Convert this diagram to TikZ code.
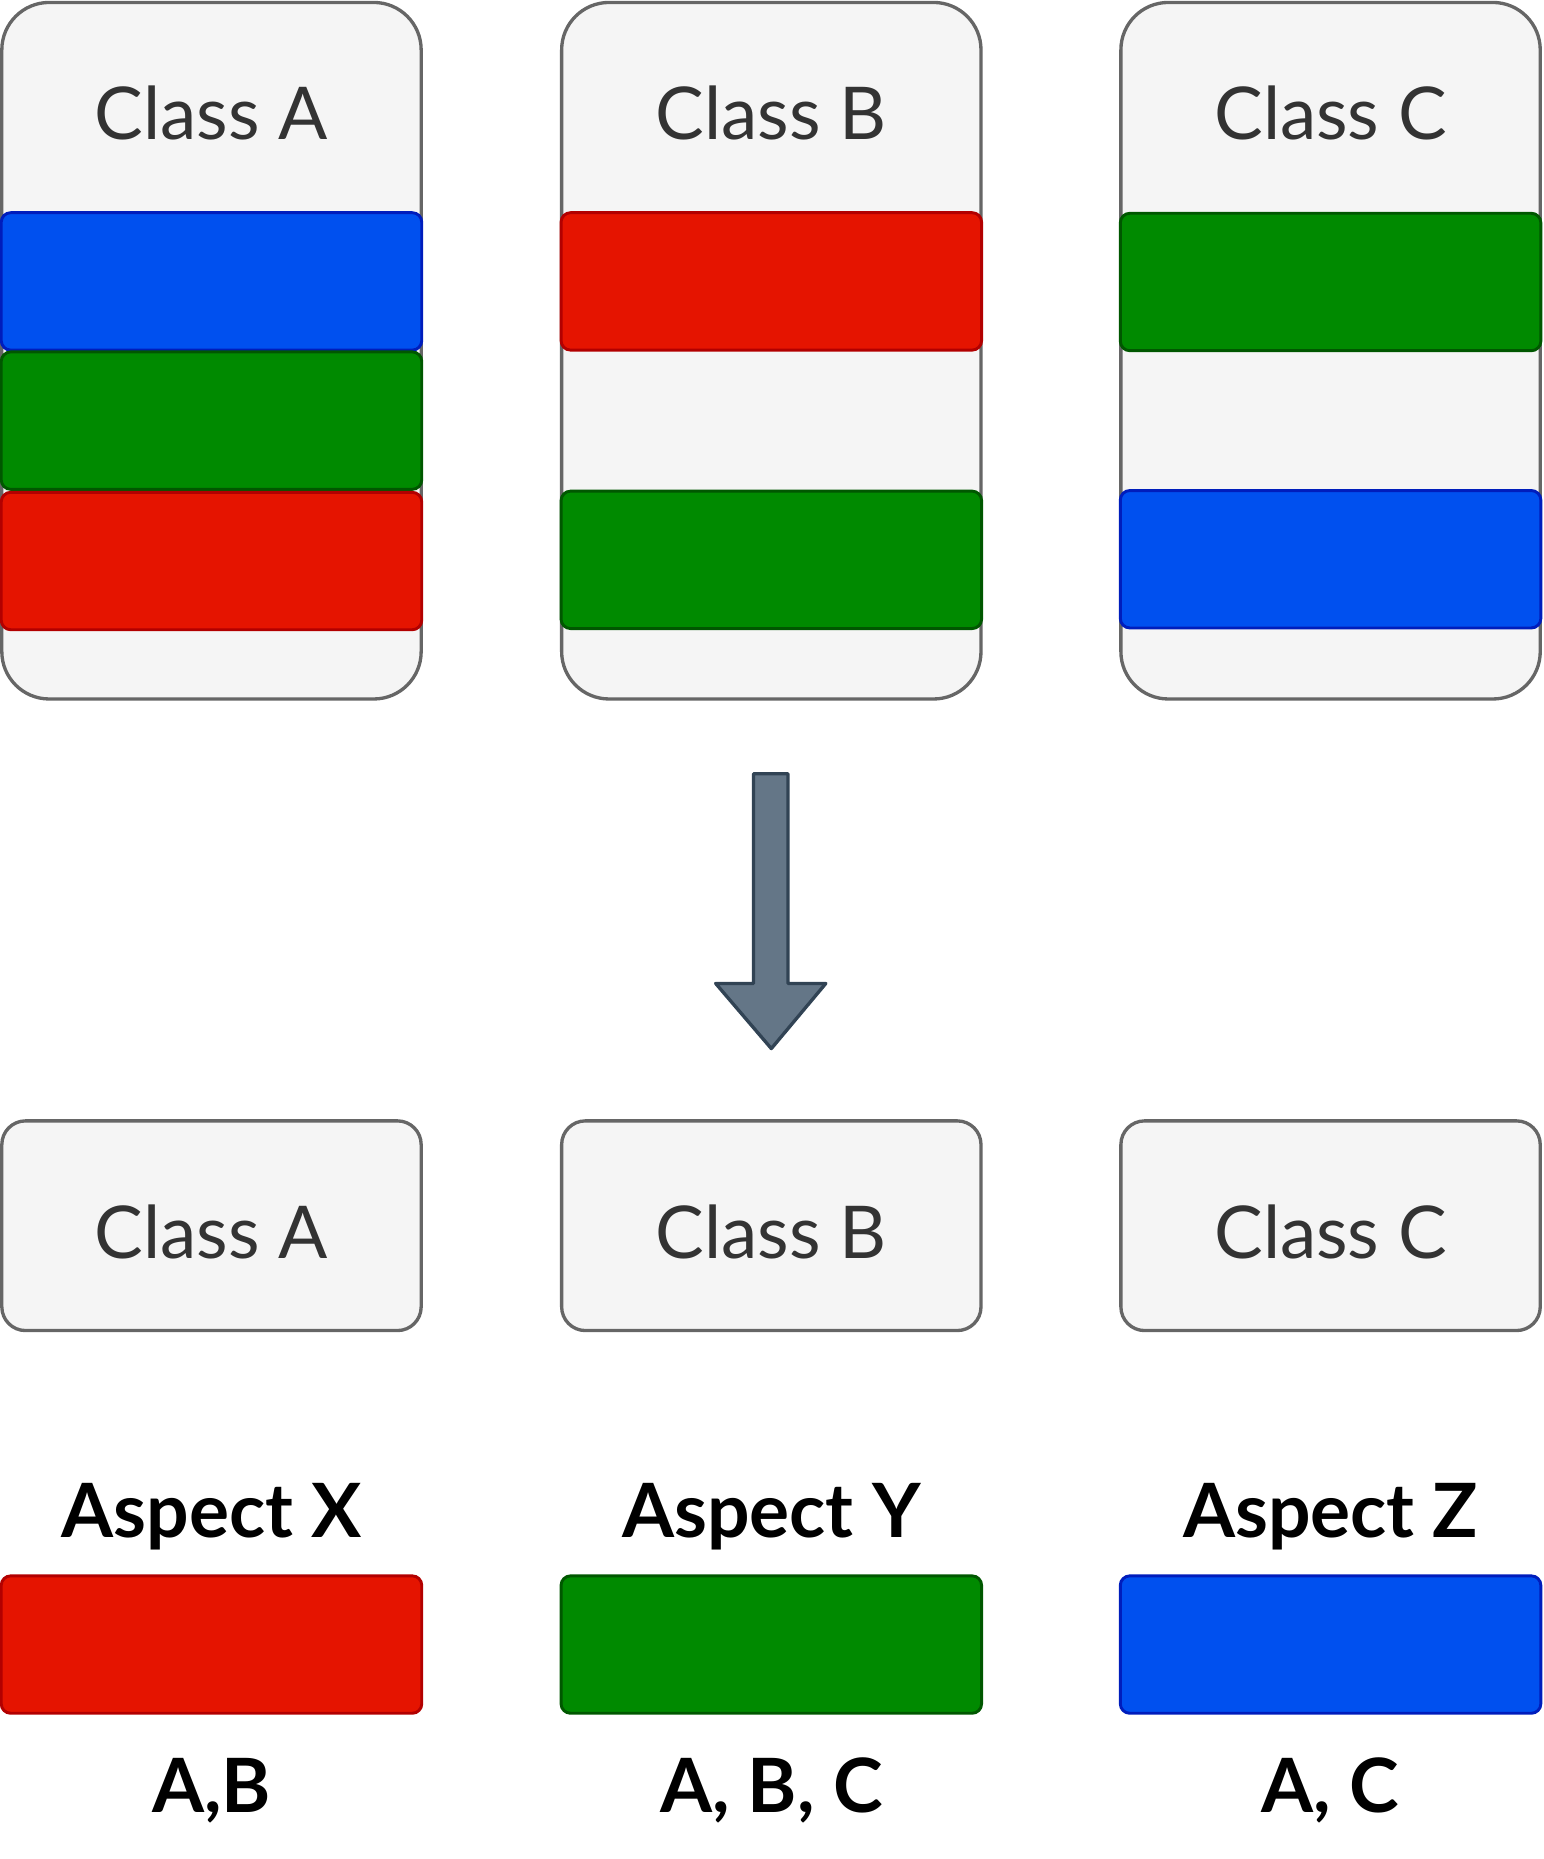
\documentclass[tikz,border=0pt]{standalone}
\usepackage{fontspec}
\setmainfont{Lato}
\usetikzlibrary{positioning}

\definecolor{boxfill}{HTML}{F5F5F5}
\definecolor{boxline}{HTML}{666666}
\definecolor{bluefill}{HTML}{0050EF}
\definecolor{blueline}{HTML}{001DBC}
\definecolor{greenfill}{HTML}{008A00}
\definecolor{greenline}{HTML}{005700}
\definecolor{redfill}{HTML}{E51400}
\definecolor{redline}{HTML}{B20000}
\definecolor{arrowfill}{HTML}{647687}
\definecolor{arrowline}{HTML}{314354}
\definecolor{textgray}{HTML}{333333}

\tikzset{
    classbox/.style={draw=boxline, fill=boxfill, line width=1.6pt, rounded corners=0.8cm,
        minimum width=7.08cm, minimum height=11.76cm, inner sep=0pt},
    smallbox/.style={draw=boxline, fill=boxfill, line width=1.6pt, rounded corners=0.4cm,
        minimum width=7.08cm, minimum height=3.54cm, inner sep=0pt},
    bar/.style={line width=1.4pt, rounded corners=0.16cm,
        minimum width=7.1cm, minimum height=2.32cm, inner sep=0pt},
    bluebar/.style={bar, draw=blueline, fill=bluefill},
    greenbar/.style={bar, draw=greenline, fill=greenfill},
    redbar/.style={bar, draw=redline, fill=redfill},
    classtext/.style={text=textgray, font=\fontsize{35}{40}\selectfont, anchor=base},
    aspecttext/.style={text=black, font=\bfseries\fontsize{36}{42}\selectfont, anchor=base},
}

\begin{document}
\begin{tikzpicture}[x=0.02cm, y=-0.02cm]
    \useasboundingbox (0,0) rectangle (1303,1569);

    % Upper classes
    \node[classbox] (topA) at (178.5,296) {};
    \node[classbox] (topB) at (651,296) {};
    \node[classbox] (topC) at (1123,296) {};

    \node[classtext] (titleA) at (178.5,118) {Class A};
    \node[classtext] (titleB) at (651,118) {Class B};
    \node[classtext] (titleC) at (1123,118) {Class C};

    % Aspect bars inside the classes
    \node[bluebar]  (a1) at (178.5,237.5) {};
    \node[greenbar] (a2) at (178.5,355) {};
    \node[redbar]   (a3) at (178.5,473.5) {};

    \node[redbar]   (b1) at (651,237.5) {};
    \node[greenbar] (b3) at (651,472.5) {};

    \node[greenbar] (c1) at (1123,238) {};
    \node[bluebar]  (c3) at (1123,472) {};

    % Arrow
    \draw[draw=arrowline, fill=arrowfill, line width=1.6pt, line join=round]
        (636,653) -- (665,653) -- (665,830) -- (697,830) -- (651,885)
        -- (604,830) -- (636,830) -- cycle;

    % Lower classes
    \node[smallbox] (botA) at (178.5,1034.5) {};
    \node[smallbox] (botB) at (651,1034.5) {};
    \node[smallbox] (botC) at (1123,1034.5) {};

    \node[classtext] at (178.5,1062) {Class A};
    \node[classtext] at (651,1062) {Class B};
    \node[classtext] at (1123,1062) {Class C};

    % Aspects
    \node[aspecttext] (nameX) at (178.5,1298) {Aspect X};
    \node[aspecttext] (nameY) at (651,1298) {Aspect Y};
    \node[aspecttext] (nameZ) at (1123,1298) {Aspect Z};

    \node[redbar]   (barX) at (178.5,1388) {};
    \node[greenbar] (barY) at (651,1388) {};
    \node[bluebar]  (barZ) at (1123,1388) {};

    \node[aspecttext] (usersX) at (178.5,1530) {A,B};
    \node[aspecttext] (usersY) at (651,1530) {A, B, C};
    \node[aspecttext] (usersZ) at (1123,1530) {A, C};
\end{tikzpicture}
\end{document}
